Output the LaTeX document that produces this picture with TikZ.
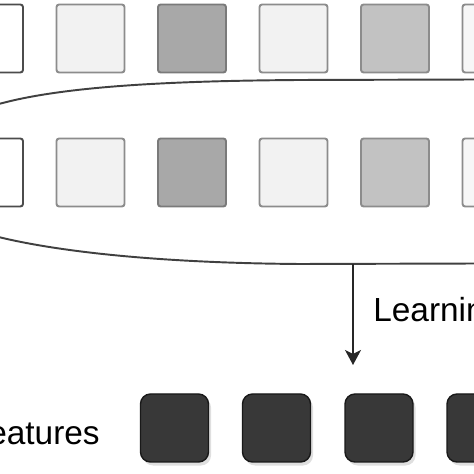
\documentclass[tikz,border=0pt]{standalone}
\usepackage{fontspec}
\setmainfont{Liberation Sans}
\usetikzlibrary{arrows.meta,shadows}

\tikzset{
	cell/.style={draw=#1,line width=1.1pt,rounded corners=1.5pt,minimum size=1.36cm,inner sep=0pt},
	feature/.style={draw=black!90,fill=black!78,line width=0.8pt,rounded corners=0.2cm,minimum size=1.36cm,inner sep=0pt,
		drop shadow={shadow xshift=0.05cm,shadow yshift=-0.07cm,fill=black!25}},
	label/.style={inner sep=0pt,font=\fontsize{19}{22}\selectfont}
}

\begin{document}
\begin{tikzpicture}
	\useasboundingbox (0,0) rectangle (9.48,9.48);
	% two rows of input cells
	\foreach \x/\f/\b [count=\i] in {-0.22/white/black!70,1.81/black!5/black!45,3.84/black!34/black!52,5.87/black!5/black!45,7.9/black!24/black!45,9.93/black!3/black!45}
	{
	\node[cell=\b,fill=\f] (top-\i) at (\x,8.71) {};
	\node[cell=\b,fill=\f] (mid-\i) at (\x,6.03) {};
	}
	% grouping outline
	\draw[black!75,line width=1.1pt] (9.6,7.89)--(6.0,7.88)
		.. controls (3.0,7.86) and (0.8,7.72) .. (-0.4,7.28)
		.. controls (-1.4,6.98) and (-1.4,5.08) .. (-0.4,4.84)
		.. controls (0.8,4.48) and (3.0,4.22) .. (6.0,4.2)--(9.6,4.21);
	\coordinate (split) at (7.06,4.2);
	\coordinate (tip) at (7.06,2.18);
	\draw[black!85,line width=0.8pt,-{Stealth[length=0.3cm,width=0.32cm,inset=0.08cm]}] (split)--(tip);
	\node[label,anchor=base west] (learn) at (7.46,3.04) {Learning};
	% learned features
	\foreach \x [count=\i] in {3.49,5.53,7.58,9.62}
	{
	\node[feature] (feat-\i) at (\x,0.92) {};
	}
	\node[label,anchor=base east] (feat) at (2.0,0.58) {Features};
\end{tikzpicture}
\end{document}
